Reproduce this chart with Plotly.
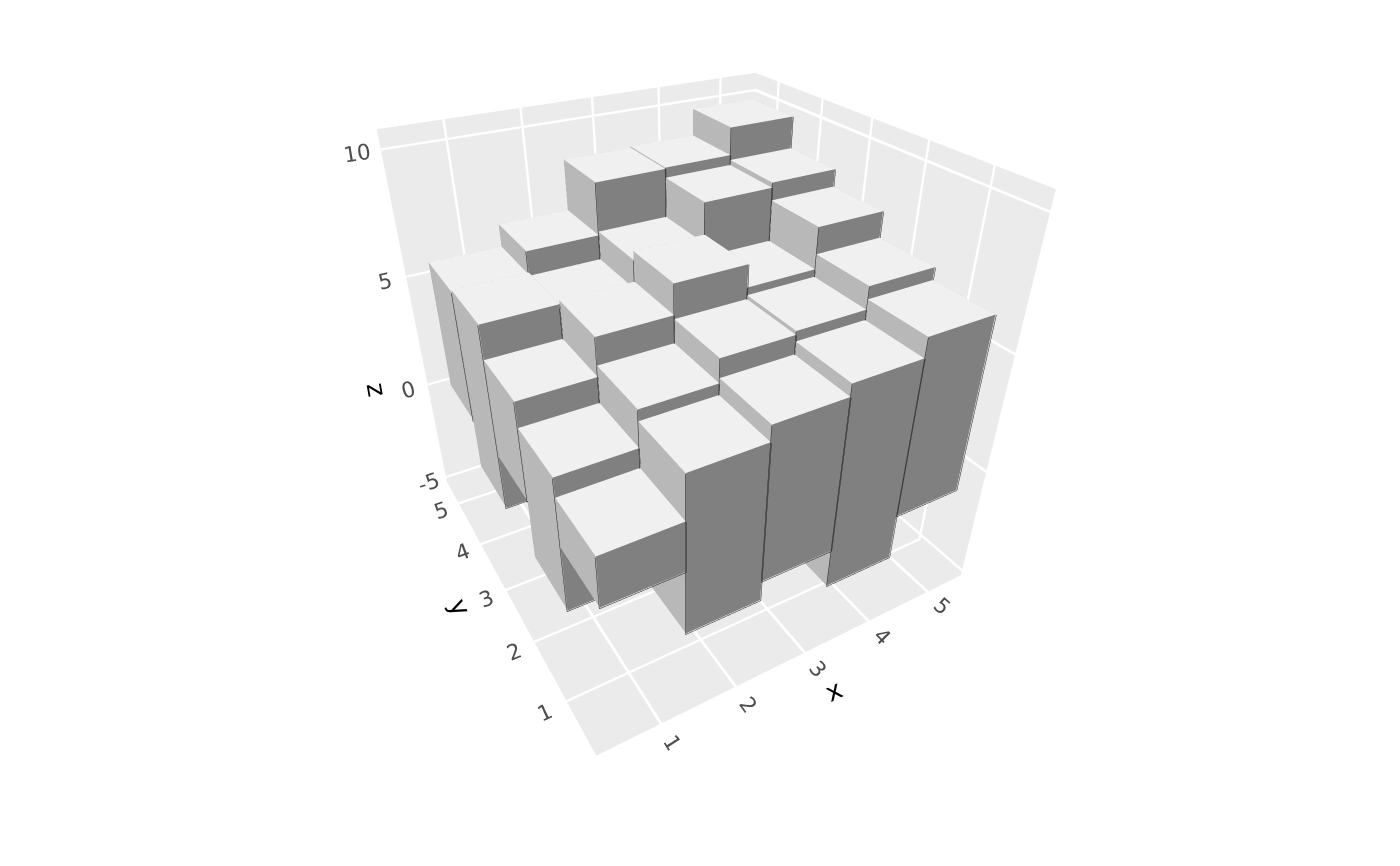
import numpy as np
import plotly.graph_objects as go

x_ticks = [1, 2, 3, 4, 5]
y_ticks = [1, 2, 3, 4, 5]
z_ticks = [-5, 0, 5, 10]
z_tick_text = ["-5", "0", "5", "10"]

# rows are y = 1..5, columns x = 1..5
z_top = [
    [2.35, 4.2, 4.85, 5.35, 6.15],
    [3.15, 4.65, 5.6, 5.75, 6.65],
    [4.2, 5.75, 6.95, 6.05, 7.7],
    [5.6, 5.45, 6.6, 8.2, 8.4],
    [5.5, 6.45, 8.55, 8.6, 9.7],
]
z_bottom = [
    [0.25, -2.6, -1.7, -3.45, -1.4],
    [-2.7, 0.0, 0.0, 0.0, 0.0],
    [0.0, 0.0, 0.0, 0.0, 0.0],
    [-2.55, 0.0, 0.0, 0.0, 0.0],
    [-0.2, 0.0, 0.0, 0.0, 0.0],
]

top_color = "#f0f0f0"
front_color = "#808080"
side_color = "#b8b8b8"

vx, vy, vz, ii, jj, kk, colors = [], [], [], [], [], [], []
ex, ey, ez = [], [], []


def add_quad(corners, color):
    n = len(vx)
    for c in corners:
        vx.append(c[0])
        vy.append(c[1])
        vz.append(c[2])
    ii.extend([n, n])
    jj.extend([n + 1, n + 2])
    kk.extend([n + 2, n + 3])
    colors.extend([color, color])


def add_edge(a, b):
    ex.extend([a[0], b[0], None])
    ey.extend([a[1], b[1], None])
    ez.extend([a[2], b[2], None])


# edge lines sit a hair in front of the faces so they don't z-fight
pad = 0.012

for row, yc in enumerate(y_ticks):
    for col, xc in enumerate(x_ticks):
        x0, x1 = xc - 0.5, xc + 0.5
        y0, y1 = yc - 0.5, yc + 0.5
        b, t = z_bottom[row][col], z_top[row][col]
        add_quad([(x0, y0, t), (x1, y0, t), (x1, y1, t), (x0, y1, t)], top_color)
        add_quad([(x0, y0, b), (x1, y0, b), (x1, y0, t), (x0, y0, t)], front_color)
        add_quad([(x0, y0, b), (x0, y1, b), (x0, y1, t), (x0, y0, t)], side_color)
        add_quad([(x1, y0, b), (x1, y1, b), (x1, y1, t), (x1, y0, t)], side_color)
        add_quad([(x0, y1, b), (x1, y1, b), (x1, y1, t), (x0, y1, t)], front_color)
        add_quad([(x0, y0, b), (x1, y0, b), (x1, y1, b), (x0, y1, b)], top_color)
        add_edge((x0 - pad, y0 - pad, b), (x0 - pad, y0 - pad, t))
        add_edge((x1, y0 - pad, b), (x1, y0 - pad, t))
        add_edge((x0 - pad, y0 - pad, b), (x1, y0 - pad, b))

fig = go.Figure(
    go.Mesh3d(
        x=vx, y=vy, z=vz, i=ii, j=jj, k=kk,
        facecolor=colors,
        flatshading=True,
        lighting={"ambient": 1, "diffuse": 0, "specular": 0, "fresnel": 0},
        showscale=False,
    )
)
fig.add_trace(
    go.Scatter3d(
        x=ex, y=ey, z=ez,
        mode="lines",
        line={"color": "#222222", "width": 1},
        hoverinfo="skip",
    )
)


def axis(tickvals, ticktext, rng):
    return {
        "title": {"text": ""},
        "tickvals": tickvals,
        "ticktext": ticktext,
        "range": rng,
        "autorange": False,
        "showbackground": True,
        "backgroundcolor": "#ebebeb",
        "gridcolor": "white",
        "gridwidth": 7,
        "zeroline": False,
        "showline": False,
        "ticks": "",
        "tickfont": {"color": "#4d4d4d", "size": 16},
    }


def title_note(text, x, y, z, angle, xshift, yshift):
    return {
        "x": x, "y": y, "z": z, "text": text, "textangle": angle,
        "xshift": xshift, "yshift": yshift,
        "showarrow": False,
        "font": {"color": "black", "size": 26},
    }


fig.update_layout(
    font={"family": "DejaVu Sans"},
    paper_bgcolor="white",
    showlegend=False,
    margin={"l": 0, "r": 26, "t": 30, "b": 100},
    scene={
        "xaxis": axis(x_ticks, [str(v) for v in x_ticks], [0.2, 5.6]),
        "yaxis": axis(y_ticks, [str(v) for v in y_ticks], [0.2, 5.6]),
        "zaxis": axis(z_ticks, z_tick_text, [-5.3, 10.7]),
        "aspectmode": "manual",
        "aspectratio": {"x": 1, "y": 1, "z": 1.0},
        "camera": {
            "eye": {"x": -0.867, "y": -1.502, "z": 1.078},
            "center": {"x": 0, "y": 0, "z": -0.09},
        },
        "annotations": [
            title_note("x", 3.4, 0.25, -5.25, -25, 5, -55),
            title_note("y", 0.25, 3.0, -5.25, 65, -50, -19),
            title_note("z", 0.25, 5.55, 0, 80, -55, -5),
        ],
    },
)

fig.write_html("out.html")
